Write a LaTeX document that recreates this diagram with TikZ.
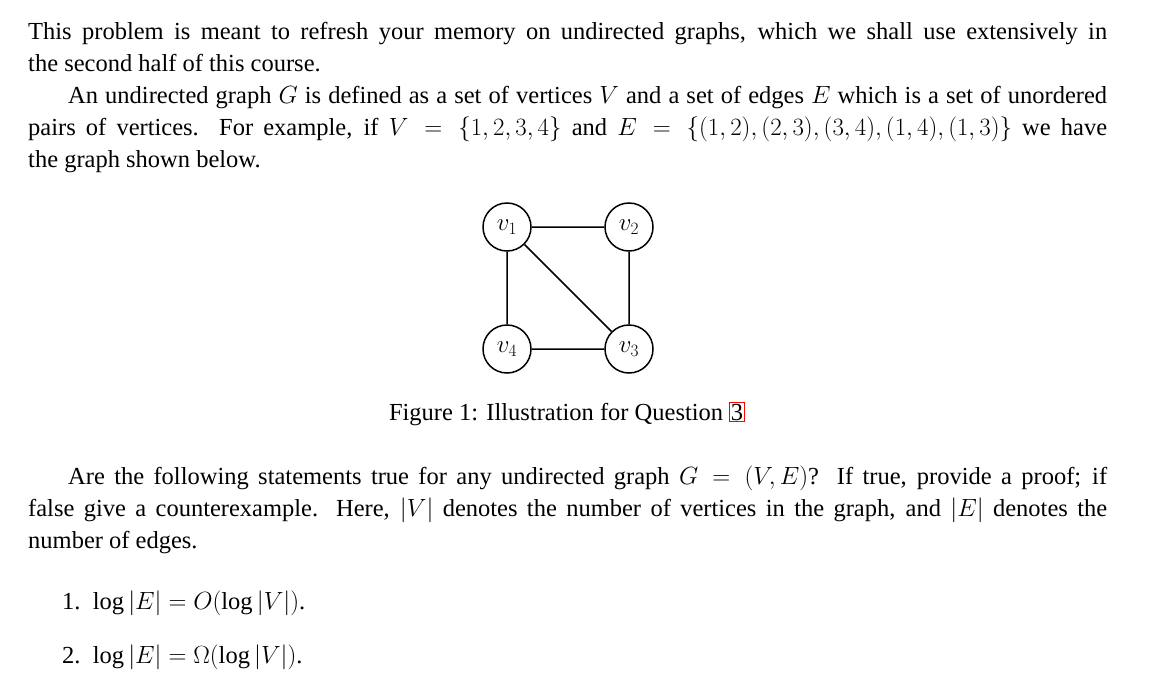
\documentclass[tikz,border=0pt]{standalone}
\usepackage{fontspec}
\setmainfont{Liberation Serif}
\begin{document}
\begin{tikzpicture}[x=1pt,y=-1pt,
  vtx/.style={draw,circle,line width=1.5pt,minimum size=48pt,inner sep=0pt,font=\fontsize{23}{26}\selectfont},
  edge/.style={line width=1.5pt},
  ln/.style={anchor=base west,inner sep=0pt,font=\fontsize{24.5}{30}\selectfont}]
\useasboundingbox (0,0) rectangle (1166,688);
\node[ln] (l1) at (28,39) {\makebox[1079pt][s]{This problem is meant to refresh your memory on undirected graphs, which we shall use extensively in}};
\node[ln] (l2) at (28,71) {the second half of this course.};
\node[ln] (l3) at (68,103) {\makebox[1039pt][s]{An undirected graph $G$ is defined as a set of vertices $V$ and a set of edges $E$ which is a set of unordered}};
\node[ln] (l4) at (28,135) {\makebox[1079pt][s]{pairs of vertices. For example, if $V=\{1,2,3,4\}$ and $E=\{(1,2),(2,3),(3,4),(1,4),(1,3)\}$ we have}};
\node[ln] (l5) at (28,167) {the graph shown below.};
\node[vtx] (v1) at (507,227) {$v_1$};
\node[vtx] (v2) at (629,227) {$v_2$};
\node[vtx] (v4) at (507,349) {$v_4$};
\node[vtx] (v3) at (629,349) {$v_3$};
\draw[edge] (v1)--(v2) (v1)--(v4) (v2)--(v3) (v4)--(v3) (v1)--(v3);
\node[ln,anchor=base] (cap) at (567,420) {Figure 1: Illustration for Question {\fboxsep=0.5pt\fboxrule=1.2pt\fcolorbox{red}{white}{3}}};
\node[ln] (l6) at (68,484) {\makebox[1039pt][s]{Are the following statements true for any undirected graph $G=(V,E)$? If true, provide a proof; if}};
\node[ln] (l7) at (28,516) {\makebox[1079pt][s]{false give a counterexample. Here, $|V|$ denotes the number of vertices in the graph, and $|E|$ denotes the}};
\node[ln] (l8) at (28,548) {number of edges.};
\node[ln] (i1) at (62,609) {1.\ \ $\log|E|=O(\log|V|)$.};
\node[ln] (i2) at (62,663) {2.\ \ $\log|E|=\Omega(\log|V|)$.};
\end{tikzpicture}
\end{document}
